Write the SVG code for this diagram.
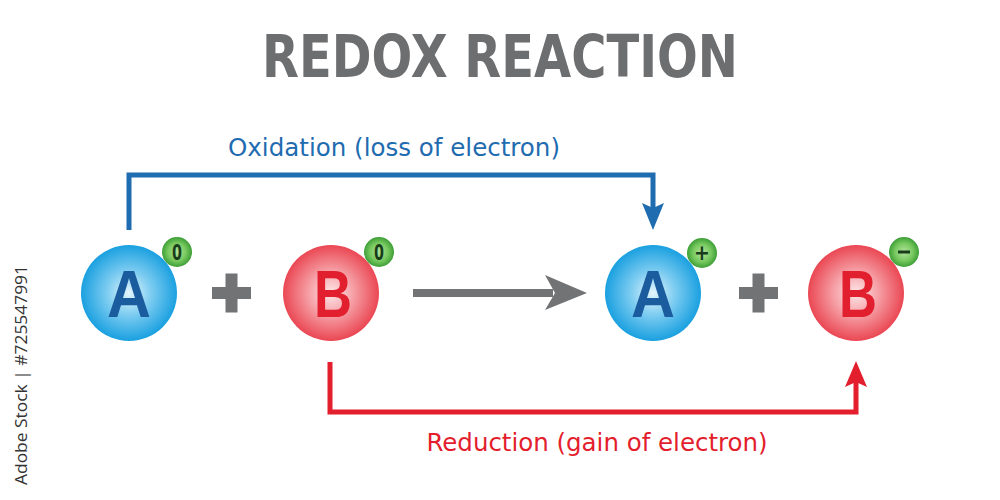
<svg xmlns="http://www.w3.org/2000/svg" width="1000" height="500" viewBox="0 0 1000 500">
  <defs>
    <radialGradient id="gBlue" cx="0.5" cy="0.5" r="0.5">
      <stop offset="0" stop-color="#e4f6fd"/>
      <stop offset="0.45" stop-color="#7fcdf1"/>
      <stop offset="1" stop-color="#1aa0e0"/>
    </radialGradient>
    <radialGradient id="gRed" cx="0.5" cy="0.5" r="0.5">
      <stop offset="0" stop-color="#fde6e8"/>
      <stop offset="0.45" stop-color="#f6a2a8"/>
      <stop offset="1" stop-color="#ea4753"/>
    </radialGradient>
    <radialGradient id="gGreen" cx="0.5" cy="0.5" r="0.5">
      <stop offset="0" stop-color="#b4e39c"/>
      <stop offset="0.6" stop-color="#77c95f"/>
      <stop offset="1" stop-color="#3d9e36"/>
    </radialGradient>
    <style>
      .title { font-family: "DejaVu Sans", "Liberation Sans", sans-serif; font-weight: bold; font-size: 58px; fill: #6d6e70; }
      .lbl { font-family: "DejaVu Sans Condensed", "DejaVu Sans", sans-serif; font-size: 24px; }
      .atomA { font-family: "Liberation Sans", "DejaVu Sans", sans-serif; font-weight: bold; font-size: 67px; fill: #1b5c9e; }
      .atomB { font-family: "Liberation Sans", "DejaVu Sans", sans-serif; font-weight: bold; font-size: 67px; fill: #e11f2e; }
      .badgeT { font-family: "DejaVu Sans Condensed", "DejaVu Sans", sans-serif; font-weight: bold; font-size: 21px; fill: #183d1a; }
      .plus { fill: #717375; }
      .wm { font-family: "Open Sans", "DejaVu Sans", sans-serif; font-size: 17px; fill: #333333; }
    </style>
  </defs>
  <rect width="1000" height="500" fill="#ffffff"/>

  <text class="title" x="500" y="77" text-anchor="middle" textLength="476" lengthAdjust="spacingAndGlyphs">REDOX REACTION</text>

  <text class="wm" transform="translate(27,375) rotate(-90)" text-anchor="middle" textLength="220" lengthAdjust="spacingAndGlyphs">Adobe Stock | #725547991</text>

  <g id="connectors">
    <g id="oxidation">
      <polyline points="129,230 129,175 653,175 653,210" fill="none" stroke="#1f6cb0" stroke-width="5"/>
      <polygon points="642,203 653,208 664,203 653,230" fill="#1f6cb0"/>
      <text class="lbl" x="394" y="156" text-anchor="middle" fill="#1f6cb0" textLength="332" lengthAdjust="spacingAndGlyphs">Oxidation (loss of electron)</text>
    </g>
    <g id="reduction">
      <polyline points="330,362 330,412 856,412 856,382" fill="none" stroke="#e31e2d" stroke-width="5"/>
      <polygon points="845,387 856,382 867,387 856,361" fill="#e31e2d"/>
      <text class="lbl" x="597" y="451" text-anchor="middle" fill="#e31e2d" textLength="341" lengthAdjust="spacingAndGlyphs">Reduction (gain of electron)</text>
    </g>
    <g id="reaction-arrow">
      <rect x="413" y="289" width="140" height="8" fill="#717375"/>
      <polygon points="545,275 587,293 545,310 555,293" fill="#717375"/>
    </g>
  </g>

  <g id="atom-A-left">
    <circle cx="129" cy="293" r="48" fill="url(#gBlue)"/>
    <text class="atomA" x="129" y="317" text-anchor="middle" textLength="44" lengthAdjust="spacingAndGlyphs">A</text>
    <circle cx="177" cy="252" r="15" fill="url(#gGreen)"/>
    <text class="badgeT" x="177" y="259.5" text-anchor="middle" textLength="10" lengthAdjust="spacingAndGlyphs">0</text>
  </g>

  <g id="plus-left">
    <rect x="212" y="287" width="39" height="12" class="plus"/>
    <rect x="225.5" y="273.5" width="12" height="39" class="plus"/>
  </g>

  <g id="atom-B-left">
    <circle cx="331" cy="293" r="48" fill="url(#gRed)"/>
    <text class="atomB" x="333" y="317" text-anchor="middle" textLength="38" lengthAdjust="spacingAndGlyphs">B</text>
    <circle cx="379" cy="252" r="15" fill="url(#gGreen)"/>
    <text class="badgeT" x="379" y="259.5" text-anchor="middle" textLength="10" lengthAdjust="spacingAndGlyphs">0</text>
  </g>

  <g id="atom-A-right">
    <circle cx="653" cy="293" r="48" fill="url(#gBlue)"/>
    <text class="atomA" x="653" y="317" text-anchor="middle" textLength="44" lengthAdjust="spacingAndGlyphs">A</text>
    <circle cx="702" cy="253" r="15" fill="url(#gGreen)"/>
    <text class="badgeT" x="702" y="260" text-anchor="middle">+</text>
  </g>

  <g id="plus-right">
    <rect x="739" y="287" width="39" height="12" class="plus"/>
    <rect x="752.5" y="273.5" width="12" height="39" class="plus"/>
  </g>

  <g id="atom-B-right">
    <circle cx="856" cy="293" r="48" fill="url(#gRed)"/>
    <text class="atomB" x="858" y="317" text-anchor="middle" textLength="38" lengthAdjust="spacingAndGlyphs">B</text>
    <circle cx="904" cy="252" r="15" fill="url(#gGreen)"/>
    <rect x="898" y="250.5" width="12" height="3" fill="#183d1a"/>
  </g>
</svg>
